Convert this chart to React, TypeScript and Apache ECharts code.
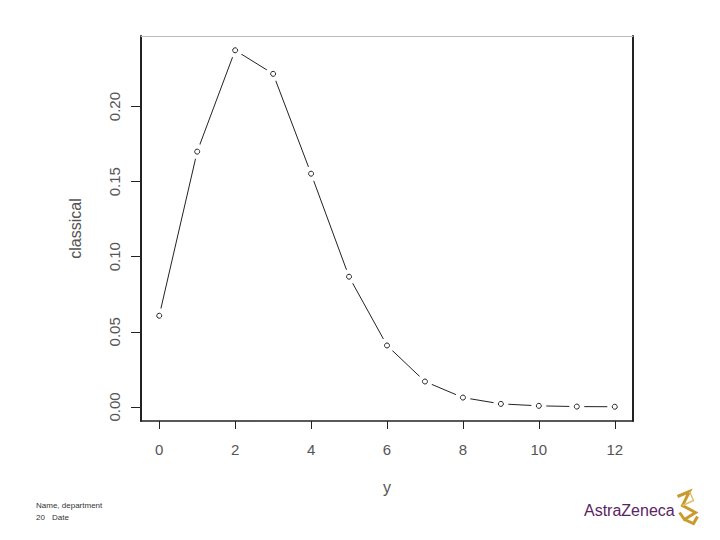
import React, { useEffect, useRef } from "react";
import * as echarts from "echarts";

const xValues = [0, 1, 2, 3, 4, 5, 6, 7, 8, 9, 10, 11, 12];
const classical = [0.0607, 0.170, 0.2375, 0.2218, 0.1553, 0.0867, 0.0409, 0.0169, 0.0062, 0.002, 0.0007, 0.0002, 0.0001];
const xTicks = [0, 2, 4, 6, 8, 10, 12];
const yTicks = [0, 0.05, 0.1, 0.15, 0.2];
const xTitle = "y";
const yTitle = "classical";
const footerLine1 = "Name, department";
const footerPage = "20";
const footerDate = "Date";
const brand = "AstraZeneca";

const FONT = "'Liberation Sans', Arial, Helvetica, sans-serif";

export default function App() {
  const ref = useRef<HTMLDivElement>(null);

  useEffect(() => {
    if (!ref.current) return;
    const chart = echarts.init(ref.current, null, { renderer: "svg" });
    const pts = xValues.map((x, i) => [x, classical[i]]);
    const xMin = -0.48;
    const xMax = 12.48;
    const yMin = -0.0094;
    const yMax = 0.247;
    const gold = "#c99a2e";
    const labelColor = "#555";

    const option: any = {
      animation: false,
      backgroundColor: "#ffffff",
      textStyle: { fontFamily: FONT },
      grid: { left: 141, top: 36, width: 492, height: 385, outerBoundsMode: "none", containLabel: false },
      xAxis: [
        {
          type: "value",
          min: xMin,
          max: xMax,
          position: "bottom",
          name: xTitle,
          nameLocation: "middle",
          nameGap: 58,
          nameTextStyle: { fontSize: 16, color: labelColor, fontFamily: FONT },
          splitLine: { show: false },
          axisLine: { show: true, onZero: false, lineStyle: { color: "#222", width: 1.5 } },
          axisTick: { show: true, length: 8, customValues: xTicks, lineStyle: { color: "#222", width: 1 } },
          axisLabel: {
            show: true,
            customValues: xTicks,
            margin: 21,
            fontSize: 15,
            color: labelColor,
            fontFamily: FONT,
            formatter: (v: number) => String(v),
          },
        },
        {
          type: "value",
          min: xMin,
          max: xMax,
          position: "top",
          splitLine: { show: false },
          axisLine: { show: true, onZero: false, lineStyle: { color: "#bbbbbb", width: 1 } },
          axisTick: { show: false },
          axisLabel: { show: false },
        },
      ],
      yAxis: [
        {
          type: "value",
          min: yMin,
          max: yMax,
          position: "left",
          name: yTitle,
          nameLocation: "middle",
          nameRotate: 90,
          nameGap: 58,
          nameTextStyle: { fontSize: 16, color: labelColor, fontFamily: FONT },
          splitLine: { show: false },
          axisLine: { show: true, onZero: false, lineStyle: { color: "#222", width: 2 } },
          axisTick: { show: true, length: 10, customValues: yTicks, lineStyle: { color: "#222", width: 1 } },
          axisLabel: {
            show: true,
            customValues: yTicks,
            rotate: 90,
            margin: 19,
            fontSize: 15,
            color: labelColor,
            fontFamily: FONT,
            formatter: (v: number) => v.toFixed(2),
          },
        },
        {
          type: "value",
          min: yMin,
          max: yMax,
          position: "right",
          splitLine: { show: false },
          axisLine: { show: true, onZero: false, lineStyle: { color: "#222", width: 2 } },
          axisTick: { show: false },
          axisLabel: { show: false },
        },
      ],
      series: [
        {
          type: "line",
          data: pts,
          showSymbol: false,
          symbol: "none",
          lineStyle: { color: "#222", width: 1 },
          z: 1,
          silent: true,
        },
        {
          type: "scatter",
          data: pts,
          symbol: "circle",
          symbolSize: 15,
          itemStyle: { color: "#ffffff", borderWidth: 0, opacity: 1 },
          z: 2,
          silent: true,
        },
        {
          type: "scatter",
          data: pts,
          symbol: "circle",
          symbolSize: 5,
          itemStyle: { color: "#ffffff", borderColor: "#222", borderWidth: 1, opacity: 1 },
          z: 3,
          silent: true,
        },
      ],
      graphic: [
        {
          type: "text",
          left: 36,
          top: 501,
          style: { text: footerLine1, fontSize: 8, fill: "#333", fontFamily: FONT },
        },
        {
          type: "text",
          left: 36,
          top: 513,
          style: { text: footerPage, fontSize: 8, fill: "#333", fontFamily: FONT },
        },
        {
          type: "text",
          left: 52,
          top: 513,
          style: { text: footerDate, fontSize: 8, fill: "#333", fontFamily: FONT },
        },
        {
          type: "text",
          left: 584,
          top: 502,
          style: { text: brand, fontSize: 16, fill: "#5b2364", fontFamily: FONT },
        },
        {
          type: "group",
          left: 675,
          top: 489,
          children: [
            {
              type: "polyline",
              shape: { points: [[2, 7], [14, 2], [7, 16], [20, 23], [9, 30], [4, 23]] },
              style: { stroke: gold, lineWidth: 3, fill: "none" },
            },
            {
              type: "polyline",
              shape: { points: [[14, 2], [18, 11], [7, 16]] },
              style: { stroke: "#e2c06a", lineWidth: 1.5, fill: "none" },
            },
            {
              type: "polyline",
              shape: { points: [[9, 30], [18, 34], [22, 27]] },
              style: { stroke: gold, lineWidth: 3, fill: "none" },
            },
          ],
        },
      ],
    };

    chart.setOption(option);
    return () => {
      chart.dispose();
    };
  }, []);

  return (
    <div
      ref={ref}
      style={{ position: "fixed", left: 0, top: 0, width: 720, height: 540, background: "#fff" }}
    />
  );
}
